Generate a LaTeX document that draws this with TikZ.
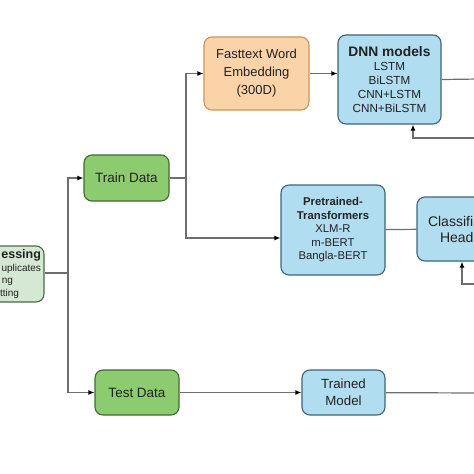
\documentclass[tikz,border=0pt]{standalone}
\usepackage{fontspec}
\setmainfont{Liberation Sans}
\usetikzlibrary{arrows.meta,positioning}
\definecolor{ink}{HTML}{222222}
\definecolor{wirecol}{HTML}{6E6E6E}
\definecolor{prepfill}{HTML}{D5E8D4}
\definecolor{prepdraw}{HTML}{4A6B47}
\definecolor{datafill}{HTML}{8DCB71}
\definecolor{datadraw}{HTML}{3F6B30}
\definecolor{embfill}{HTML}{FAD4A8}
\definecolor{embdraw}{HTML}{C9935A}
\definecolor{modelfill}{HTML}{B1DDF0}
\definecolor{modeldraw}{HTML}{3C6478}
\tikzset{
  box/.style={draw, rounded corners=8pt, line width=1.1pt, align=center, inner sep=0pt, text=ink, font=\fontsize{13.5}{17}\selectfont},
  databox/.style={box, fill=datafill, draw=datadraw, minimum width=85pt, minimum height=46pt},
  embbox/.style={box, fill=embfill, draw=embdraw, minimum width=105pt, minimum height=73pt, font=\fontsize{13}{18}\selectfont},
  modelbox/.style={box, fill=modelfill, draw=modeldraw, minimum width=104pt, minimum height=89pt, font=\fontsize{11.7}{14}\selectfont},
  prepbox/.style={box, fill=prepfill, draw=prepdraw, minimum width=104pt, minimum height=56pt, align=right, text width=98pt, font=\fontsize{10}{12.7}\selectfont},
  arrow/.style={-{Latex[length=6pt,width=5pt,black]}, line width=1.2pt, draw=wirecol},
  link/.style={line width=1.2pt, draw=wirecol}
}

\begin{document}
\begin{tikzpicture}[x=1pt, y=-1pt]
  \useasboundingbox (0,0) rectangle (474,474);
  \clip (0,0) rectangle (474,474);

  \node[prepbox] (prep) at (-8,274) {{\fontsize{12.5}{13}\selectfont\bfseries essing}\\uplicates\\ng\makebox[28pt]{}\\tting\makebox[22pt]{}};

  \node[databox] (train) at (126.5,178) {Train Data};
  \node[databox, minimum width=84pt, minimum height=45pt] (test) at (137,392.5) {Test Data};

  \node[embbox] (fasttext) at (256.5,73.5) {Fasttext Word\\Embedding\\(300D)};
  \node[modelbox, minimum width=103pt] (dnn) at (389.5,79.5) {{\fontsize{13.8}{15}\selectfont\bfseries DNN models}\\LSTM\\BiLSTM\\CNN+LSTM\\CNN+BiLSTM};
  \node[modelbox, minimum height=90pt, font=\fontsize{11.3}{13.5}\selectfont] (pretrained) at (333,230) {\textbf{Pretrained-}\\\textbf{Transformers}\\XLM-R\\m-BERT\\Bangla-BERT};
  \node[modelbox, minimum width=76pt, minimum height=64pt, align=left, text width=54pt, inner xsep=0pt, font=\fontsize{14}{16}\selectfont] (head) at (455,229) {Classifi\\\hspace*{12pt}Head};
  \node[modelbox, minimum width=83pt, minimum height=45pt, font=\fontsize{13.3}{17}\selectfont] (trained) at (343.5,392.5) {Trained\\Model};

  % split points and loose ends
  \coordinate (split1) at (68,273);
  \coordinate (split2) at (186,178);
  \coordinate (dnnout) at (480,79);
  \coordinate (dnnback) at (480,138);
  \coordinate (headback) at (480,284);
  \coordinate (trainedout) at (480,393);

  \draw[link] (prep.east |- split1) -- (split1);
  \draw[arrow] (split1) |- (train);
  \draw[arrow] (split1) |- (test);
  \draw[link] (train) -- (split2);
  \draw[arrow] (split2) |- (fasttext);
  \draw[arrow] (split2) |- ([yshift=-8pt]pretrained.west);
  \draw[arrow] (fasttext) -- (dnn.west |- fasttext.east);
  \draw[link] (dnn.east) -- (dnnout);
  \draw[arrow] (dnnback) -| ([xshift=23.5pt]dnn.south);
  \draw[link] (pretrained) -- (head);
  \draw[arrow] (headback) -| ([xshift=7pt]head.south);
  \draw[arrow] (test) -- (trained);
  \draw[link] (trained) -- (trainedout);
\end{tikzpicture}
\end{document}
